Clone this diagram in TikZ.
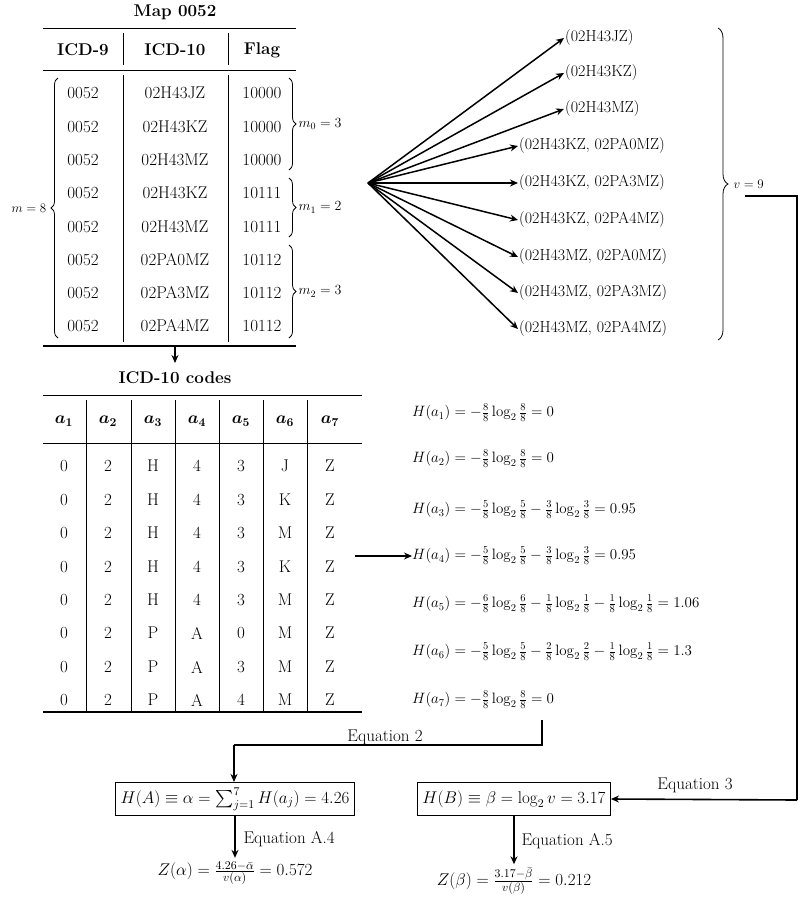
\RequirePackage{fix-cm}
\documentclass[tikz,border=0pt]{standalone}
\usepackage{amsmath,bm}
\usetikzlibrary{decorations.pathreplacing,arrows.meta}
\begin{document}
\begin{tikzpicture}[x=1pt,y=-1pt,font=\fontsize{17}{20}\selectfont,
  rule/.style={line width=1pt},
  vline/.style={line width=0.7pt},
  conn/.style={line width=1.6pt,-{Stealth[length=8pt,width=7pt]}},
  wire/.style={line width=1.6pt},
  br/.style={decorate,decoration={brace,amplitude=7pt},line width=0.8pt},
  eqbox/.style={draw,line width=0.8pt,inner sep=5pt}]
\useasboundingbox (0,0) rectangle (800,898);
% Map 0052 table
\node[font=\fontsize{17}{20}\selectfont\bfseries] (t1title) at (175,12) {Map 0052};
\draw[rule] (43,28) -- (296,28);
\draw[rule] (43,70) -- (296,70);
\draw[rule,line width=1.6pt] (43,346) -- (296,346);
\foreach \x in {123,228}{\draw[vline] (\x,33) -- (\x,65); \draw[vline] (\x,75) -- (\x,342);}
\node[font=\fontsize{17}{20}\selectfont\bfseries] at (83,50) {ICD-9};
\node[font=\fontsize{17}{20}\selectfont\bfseries] at (175,50) {ICD-10};
\node[font=\fontsize{17}{20}\selectfont\bfseries] at (262,50) {Flag};
\foreach \y/\c/\f [count=\i] in {93/02H43JZ/10000,127/02H43KZ/10000,160/02H43MZ/10000,193/02H43KZ/10111,227/02H43MZ/10111,260/02PA0MZ/10112,293/02PA3MZ/10112,326/02PA4MZ/10112}{
  \node (r\i a) at (83,\y) {0052};
  \node (r\i b) at (175,\y) {\c};
  \node (r\i c) at (262,\y) {\f};}
\draw[br] (58,338) -- (58,78) node[midway,left=8pt,font=\fontsize{13}{15}\selectfont] (m) {$m=8$};
\draw[br] (289,78) -- (289,170) node[midway,right=6pt,font=\fontsize{14}{16}\selectfont] (m0) {$m_0=3$};
\draw[br] (289,178) -- (289,237) node[midway,right=6pt,font=\fontsize{14}{16}\selectfont] (m1) {$m_1=2$};
\draw[br] (289,245) -- (289,338) node[midway,right=6pt,font=\fontsize{14}{16}\selectfont] (m2) {$m_2=3$};
\coordinate (mapbot) at (175,346);
\coordinate (codetop) at (175,363);
\draw[conn,line width=1.4pt] (mapbot) -- (codetop);
% ICD-10 codes table
\node[font=\fontsize{17}{20}\selectfont\bfseries] (t2title) at (175,378) {ICD-10 codes};
\draw[rule] (43,395) -- (362,395);
\draw[rule] (43,443) -- (362,443);
\draw[rule,line width=1.6pt] (43,712) -- (362,712);
\foreach \x in {86,131,175,219,263,307}{\draw[vline] (\x,400) -- (\x,712);}
\foreach \x [count=\i] in {64,108,153,197,241,285,330}{\node at (\x,421) {$\bm{a_{\i}}$};}
\foreach \y/\p/\q/\r/\s [count=\i] in {466/H/4/3/J,500/H/4/3/K,533/H/4/3/M,567/H/4/3/K,600/H/4/3/M,633/P/A/0/M,667/P/A/3/M,700/P/A/4/M}{
  \node at (64,\y) {0}; \node at (108,\y) {2}; \node at (153,\y) {\p};
  \node at (197,\y) {\q}; \node at (241,\y) {\r}; \node at (285,\y) {\s};
  \node (c\i) at (330,\y) {Z};}
% entropies
\begin{scope}[every node/.style={anchor=west,inner sep=0pt,font=\fontsize{15}{18}\selectfont}]
\node (h1) at (412,413) {$H(a_1)=-\frac{8}{8}\log_2\frac{8}{8}=0$};
\node (h2) at (412,459) {$H(a_2)=-\frac{8}{8}\log_2\frac{8}{8}=0$};
\node (h3) at (412,510) {$H(a_3)=-\frac{5}{8}\log_2\frac{5}{8}-\frac{3}{8}\log_2\frac{3}{8}=0.95$};
\node (h4) at (412,556) {$H(a_4)=-\frac{5}{8}\log_2\frac{5}{8}-\frac{3}{8}\log_2\frac{3}{8}=0.95$};
\node (h5) at (412,604) {$H(a_5)=-\frac{6}{8}\log_2\frac{6}{8}-\frac{1}{8}\log_2\frac{1}{8}-\frac{1}{8}\log_2\frac{1}{8}=1.06$};
\node (h6) at (412,652) {$H(a_6)=-\frac{5}{8}\log_2\frac{5}{8}-\frac{2}{8}\log_2\frac{2}{8}-\frac{1}{8}\log_2\frac{1}{8}=1.3$};
\node (h7) at (412,700) {$H(a_7)=-\frac{8}{8}\log_2\frac{8}{8}=0$};
\end{scope}
\coordinate (c4r) at (355,556);
\draw[conn,line width=1.4pt] (c4r) -- (h4.west);
% fan
\coordinate (fan) at (368,183);
\begin{scope}[every node/.style={anchor=west,inner sep=1pt,font=\fontsize{16}{19}\selectfont}]
\node (p1) at (564,38) {(02H43JZ)};
\node (p2) at (564,73) {(02H43KZ)};
\node (p3) at (564,109) {(02H43MZ)};
\node (p4) at (518,146) {(02H43KZ, 02PA0MZ)};
\node (p5) at (518,183) {(02H43KZ, 02PA3MZ)};
\node (p6) at (518,220) {(02H43KZ, 02PA4MZ)};
\node (p7) at (518,257) {(02H43MZ, 02PA0MZ)};
\node (p8) at (518,293) {(02H43MZ, 02PA3MZ)};
\node (p9) at (518,329) {(02H43MZ, 02PA4MZ)};
\end{scope}
\foreach \i in {1,...,9}{\draw[conn,line width=1.5pt] (fan) -- (p\i.west);}
\draw[br,decoration={brace,amplitude=10pt}] (718,28) -- (718,340) node[midway,right=12pt,font=\fontsize{13}{15}\selectfont] (v) {$v=9$};
% boxes
\node[eqbox] (HA) at (235,799) {$H(A)\equiv\alpha=\sum_{j=1}^{7}H(a_j)=4.26$};
\node[eqbox,inner ysep=8pt] (HB) at (514,799) {$H(B)\equiv\beta=\log_2 v=3.17$};
\coordinate (h7b) at (542,720);
\coordinate (e2a) at (542,745);
\coordinate (e2b) at (234,745);
\draw[wire] (h7b) -- (e2a) -- (e2b);
\draw[conn] (e2b) -- (HA.north -| e2b);
\node (eq2) at (385,737) {Equation 2};
\coordinate (v1) at (745,196);
\coordinate (v2) at (797,196);
\coordinate (v3) at (797,800);
\draw[wire] (v1) -- (v2) -- (v3);
\draw[conn] (v3) -- (HB.east);
\node (eq3) at (695,785) {Equation 3};
\node (ZA) at (235,873) {$Z(\alpha)=\frac{4.26-\bar\alpha}{v(\alpha)}=0.572$};
\node (ZB) at (514,881) {$Z(\beta)=\frac{3.17-\bar\beta}{v(\beta)}=0.212$};
\draw[conn] (HA.south) -- (ZA.north);
\draw[conn] (HB.south) -- (ZB.north);
\node[anchor=west] at (240,839) {Equation A.4};
\node[anchor=west] at (518,841) {Equation A.5};
\end{tikzpicture}
\end{document}
